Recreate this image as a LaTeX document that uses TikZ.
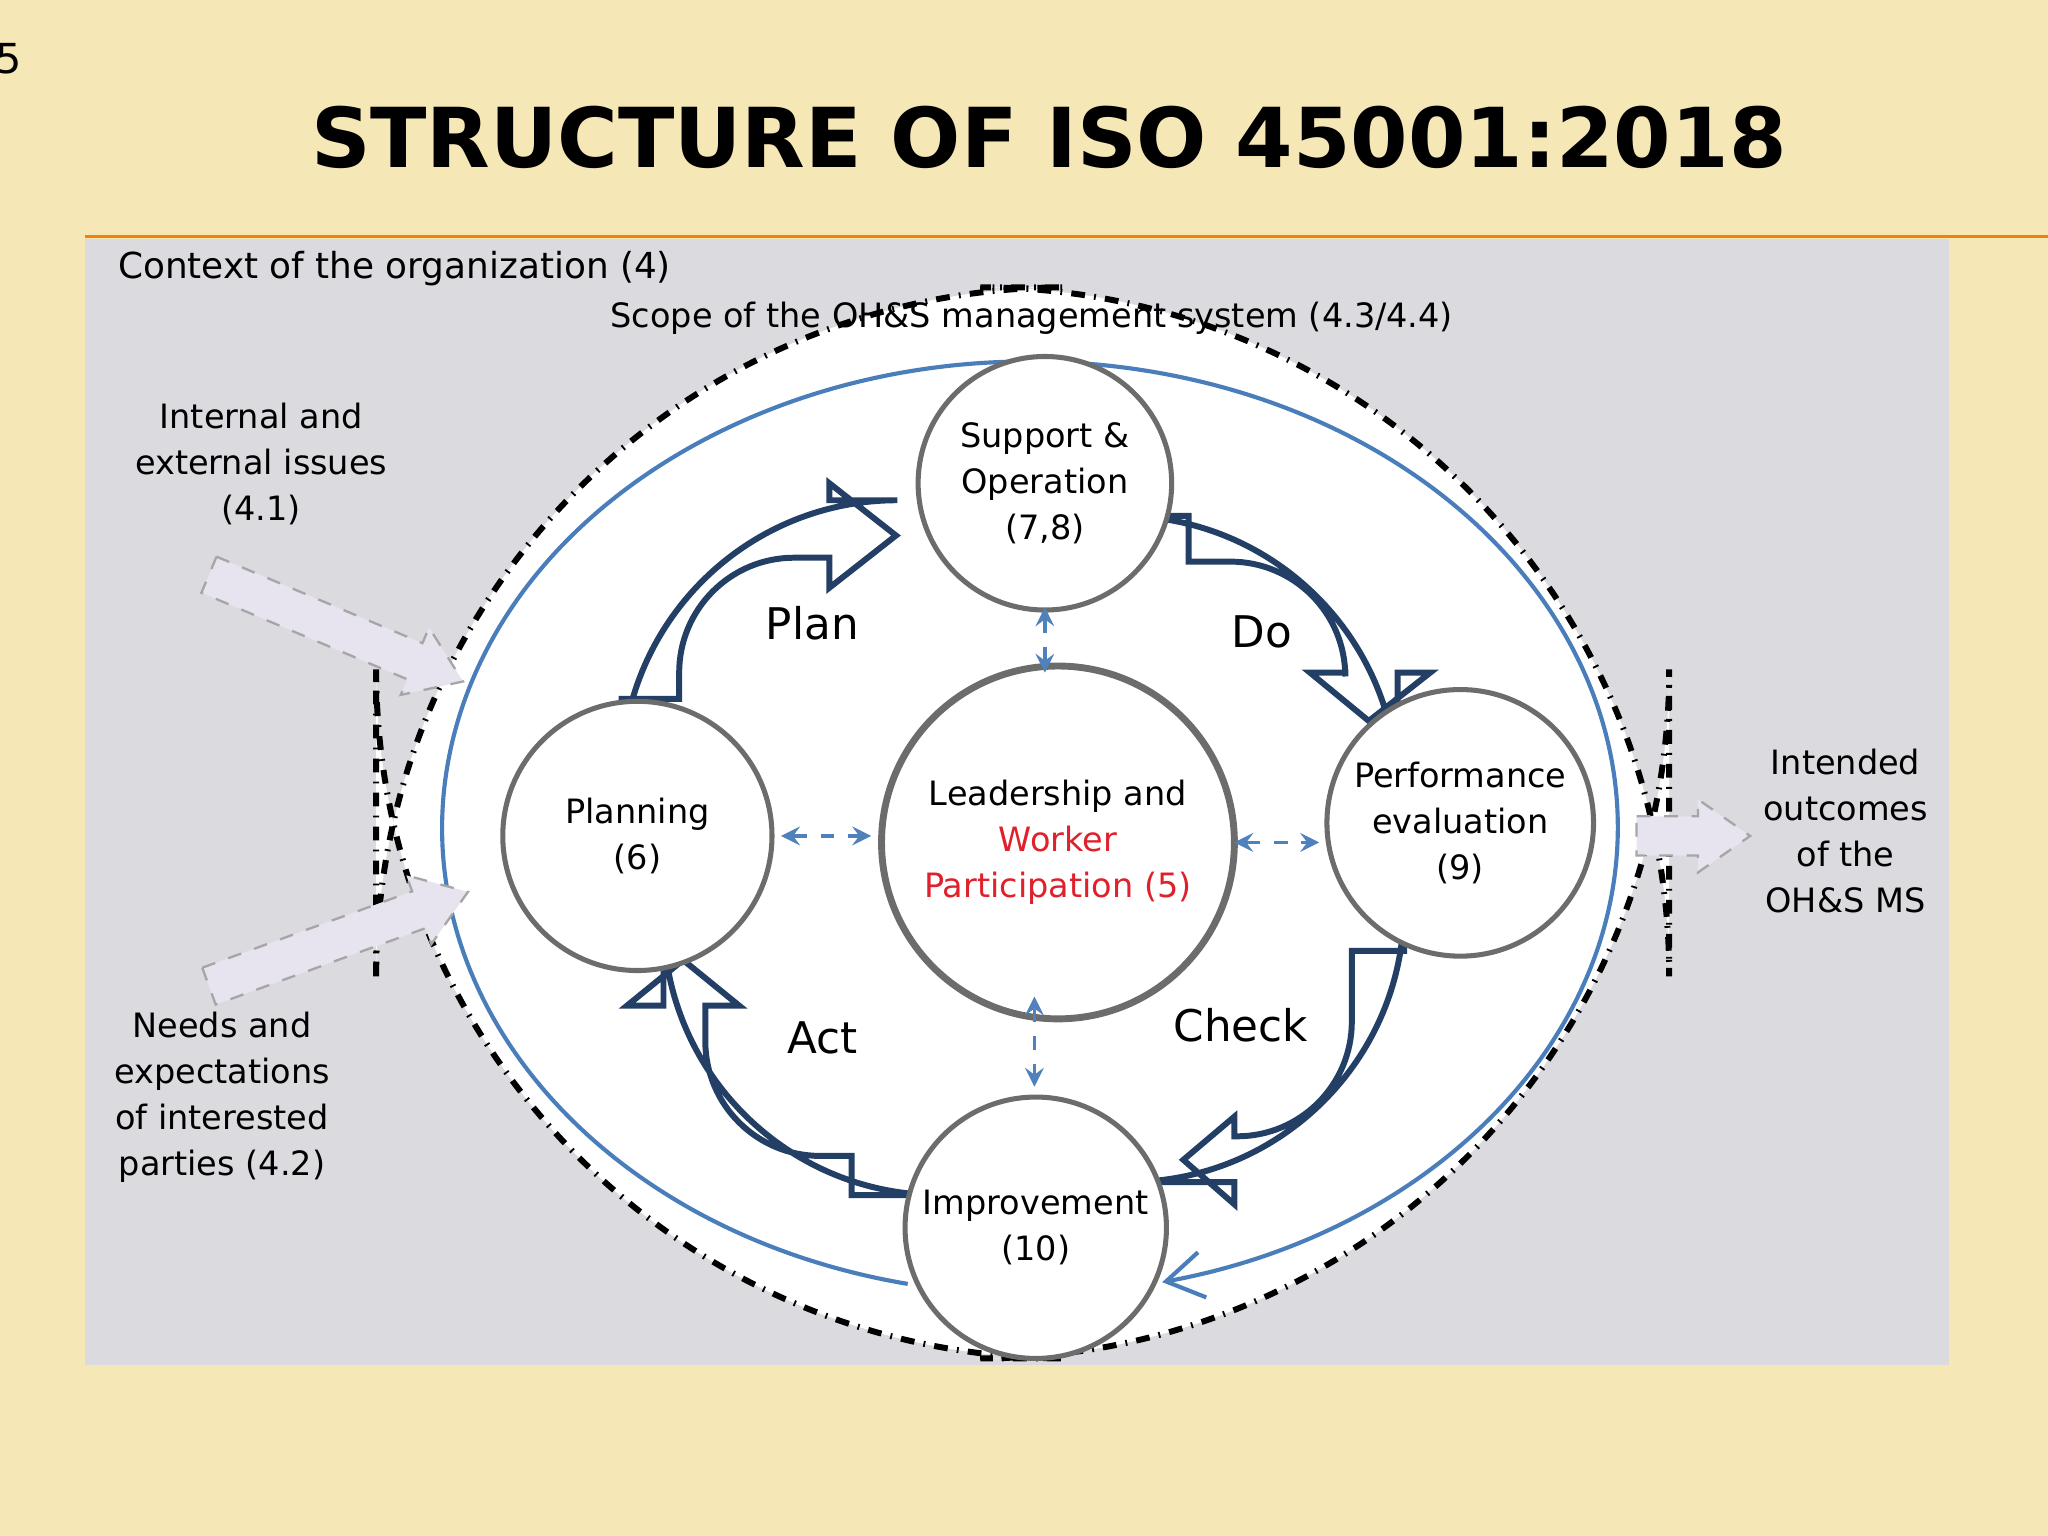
\documentclass[tikz,border=0pt]{standalone}
\usepackage{fontspec}
\usetikzlibrary{arrows.meta}
\setmainfont{DejaVu Sans}
\begin{document}
\begin{tikzpicture}[x=0.01cm,y=-0.01cm,
  cir/.style={circle,draw=gray!85!black,line width=1.1pt,fill=white,minimum size=#1,inner sep=0pt,align=center,font=\fontsize{7.3}{10}\selectfont},
  bigarr/.style={draw=navy,line width=1.3pt,fill=white,line join=miter},
  dbl/.style={<->,>=stealth,dashed,draw=ablue,line width=0.8pt},
  fat/.style={draw=gray!70,dashed,fill=lav,line width=0.5pt},
  lbl/.style={align=center,font=\fontsize{7.3}{10}\selectfont},
  act/.style={font=\fontsize{9.5}{11}\selectfont}]
\definecolor{bgy}{HTML}{F6E7B6}
\definecolor{navy}{HTML}{243F66}
\definecolor{ablue}{HTML}{4F81BD}
\definecolor{lav}{HTML}{E7E3EF}
\definecolor{panel}{HTML}{DADADF}
\definecolor{wred}{HTML}{E0202A}
\definecolor{ell}{HTML}{4A7EBB}
\useasboundingbox (0,0) rectangle (1568,1176);
\fill[bgy] (0,0) rectangle (1568,1176);
\node[anchor=west,font=\fontsize{9}{10}\selectfont] (five) at (-16,45) {5};
\node[font=\bfseries\fontsize{18}{20}\selectfont] (title) at (803,105) {STRUCTURE OF ISO 45001:2018};
\draw[orange!80!brown,line width=0.7pt] (65,181) -- (1568,181);
\fill[panel] (65,183) rectangle (1492,1045);
\node[anchor=west,font=\fontsize{7.8}{9}\selectfont] (ctx) at (78,206) {Context of the organization (4)};
\draw[fill=white,dash dot,line width=1.3pt,rounded corners=150] (288,220) rectangle (1278,1040);
\node[font=\fontsize{7.3}{9}\selectfont] (scope) at (790,244) {Scope of the OH\&S management system (4.3/4.4)};
\draw[ell,line width=0.9pt,-{Straight Barb[length=8pt,width=10pt]}] (695,983) arc[start angle=102,end angle=437,x radius=450,y radius=357];
% big arrows
\draw[bigarr] (476,535) [rounded corners=60]-- (476,383) [sharp corners]-- (635,383) -- (635,370) -- (686,410) -- (635,450) -- (635,427) [rounded corners=25]-- (520,427) [sharp corners]-- (520,535) -- cycle;
\draw[bigarr] (910,395) [rounded corners=60]-- (1070,395) [sharp corners]-- (1070,515) -- (1095,515) -- (1048,552) -- (1003,515) -- (1030,515) [rounded corners=25]-- (1030,430) [sharp corners]-- (910,430) -- cycle;
\draw[bigarr] (1035,728) -- (1075,728) [rounded corners=60]-- (1075,905) [sharp corners]-- (945,905) -- (945,922) -- (906,888) -- (945,855) -- (945,870) [rounded corners=25]-- (1035,870) [sharp corners]-- cycle;
\draw[bigarr] (652,885) -- (652,915) [rounded corners=60]-- (508,915) [sharp corners]-- (508,770) -- (480,770) -- (523,735) -- (566,770) -- (540,770) [rounded corners=25]-- (540,885) [sharp corners]-- cycle;
\node[act] (plan) at (622,477) {Plan};
\node[act] (do) at (966,484) {Do};
\node[act] (check) at (950,785) {Check};
\node[act] (actl) at (630,795) {Act};
% circles
\node[cir=1.94cm] (sup) at (800,370) {Support \&\\Operation\\(7,8)};
\node[cir=2.06cm] (pln) at (488,640) {Planning\\(6)};
\node[cir=2.70cm,line width=1.5pt] (lead) at (810,645) {Leadership and\\\textcolor{wred}{Worker}\\\textcolor{wred}{Participation (5)}};
\node[cir=2.04cm] (perf) at (1118,630) {Performance\\evaluation\\(9)};
\node[cir=2.00cm] (imp) at (793,940) {Improvement\\(10)};
% dashed double arrows
\draw[dbl] (800,465) -- (800,515);
\draw[dbl] (598,640) -- (667,640);
\draw[dbl] (945,645) -- (1010,645);
\draw[dbl] (792,763) -- (792,832);
% fat gray arrows
\begin{scope}[shift={(160,440)},rotate=-22.8]
\draw[fat] (0,-15)--(171,-15)--(171,-28)--(211,0)--(171,28)--(171,15)--(0,15)--cycle;
\end{scope}
\begin{scope}[shift={(160,755)},rotate=20]
\draw[fat] (0,-15)--(171,-15)--(171,-28)--(211,0)--(171,28)--(171,15)--(0,15)--cycle;
\end{scope}
\draw[fat] (1253,625)--(1300,625)--(1300,612)--(1340,640)--(1300,668)--(1300,655)--(1253,655)--cycle;
\node[lbl] (iss) at (200,355) {Internal and\\external issues\\(4.1)};
\node[lbl] (needs) at (170,840) {Needs and\\expectations\\of interested\\parties (4.2)};
\node[lbl] (out) at (1413,636) {Intended\\outcomes\\of the\\OH\&S MS};
\end{tikzpicture}
\end{document}
